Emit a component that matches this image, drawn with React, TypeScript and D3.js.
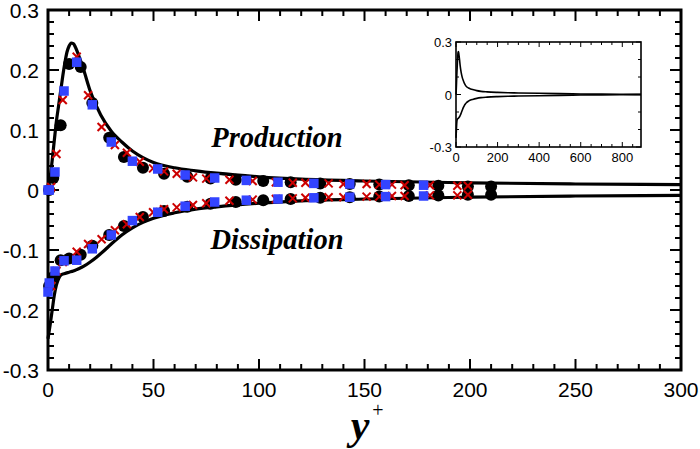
import React from "react";
import * as d3 from "d3";

// ---- Data ----
const prodLineX = [0, 1, 2, 3, 4, 5, 6, 7, 8, 9, 10, 11, 12, 13, 15, 17, 20, 25, 30, 35, 40, 45, 50, 60, 70, 80, 100, 120, 150, 200, 250, 300];
const prodLineY = [0, 0.02, 0.05, 0.083, 0.115, 0.14, 0.165, 0.19, 0.212, 0.23, 0.24, 0.245, 0.244, 0.238, 0.22, 0.199, 0.165, 0.125, 0.098, 0.08, 0.065, 0.054, 0.046, 0.037, 0.032, 0.028, 0.022, 0.018, 0.015, 0.012, 0.01, 0.009];
const dissLineX = [0, 1, 2, 3, 4, 5, 6, 8, 10, 12, 14, 17, 20, 23, 26, 30, 35, 40, 45, 50, 60, 70, 80, 100, 120, 150, 200, 250, 300];
const dissLineY = [-0.248, -0.225, -0.2, -0.175, -0.158, -0.148, -0.142, -0.139, -0.137, -0.135, -0.132, -0.127, -0.12, -0.112, -0.103, -0.09, -0.075, -0.063, -0.054, -0.047, -0.038, -0.032, -0.028, -0.022, -0.018, -0.015, -0.012, -0.01, -0.009];
// inset extension beyond y+ = 300
const extX = [400, 500, 600, 700, 800, 890];
const extProdY = [0.007, 0.005, 0.003, 0.002, 0.001, 0.0005];
const extDissY = [-0.007, -0.005, -0.003, -0.002, -0.001, -0.0005];

const circX = [0.5, 2.5, 6, 10, 15.5, 21, 29, 36, 45, 55, 66, 77, 89, 102, 115, 129, 143, 157, 171, 185, 199, 210];
const circProd = [0.0, 0.02, 0.108, 0.21, 0.205, 0.145, 0.087, 0.055, 0.037, 0.027, 0.022, 0.019, 0.017, 0.015, 0.013, 0.011, 0.01, 0.009, 0.008, 0.007, 0.006, 0.006];
const circDiss = [-0.16, -0.145, -0.117, -0.114, -0.108, -0.093, -0.075, -0.06, -0.045, -0.035, -0.028, -0.023, -0.02, -0.017, -0.015, -0.013, -0.012, -0.011, -0.01, -0.009, -0.008, -0.008];

const sqX = [0, 0.6, 3.3, 7.6, 13.6, 21, 30, 40, 52, 65, 79, 94, 109, 126, 143, 160, 178];
const sqProd = [0.0, 0.0, 0.03, 0.165, 0.213, 0.142, 0.08, 0.048, 0.035, 0.025, 0.02, 0.016, 0.013, 0.011, 0.01, 0.009, 0.008];
const sqDiss = [-0.17, -0.155, -0.135, -0.118, -0.117, -0.098, -0.075, -0.051, -0.037, -0.027, -0.02, -0.017, -0.015, -0.013, -0.012, -0.011, -0.01];

const xMarkX = [1.5, 4, 7, 13.6, 19, 25.4, 31.7, 37.4, 43.5, 49.8, 55, 61, 68.7, 75, 86, 97, 108, 116, 122, 133, 140, 151, 157, 163, 169, 181, 194, 199];
const xMarkProd = [0.005, 0.06, 0.15, 0.222, 0.158, 0.105, 0.075, 0.062, 0.047, 0.036, 0.031, 0.027, 0.021, 0.019, 0.017, 0.015, 0.013, 0.012, 0.012, 0.011, 0.01, 0.01, 0.009, 0.009, 0.008, 0.008, 0.007, 0.007];
const xMarkDiss = [-0.16, -0.135, -0.12, -0.103, -0.09, -0.082, -0.067, -0.057, -0.045, -0.037, -0.032, -0.029, -0.025, -0.022, -0.018, -0.016, -0.015, -0.014, -0.013, -0.012, -0.012, -0.011, -0.011, -0.01, -0.01, -0.009, -0.009, -0.008];

const xTicks = [0, 50, 100, 150, 200, 250, 300];
const yTicks = [0.3, 0.2, 0.1, 0, -0.1, -0.2, -0.3];
const insetXTicks = [0, 200, 400, 600, 800];
const insetYTicks = [0.3, 0, -0.3];

const fmt = (v: number) => (Math.abs(v) < 1e-9 ? "0" : String(+v.toFixed(1)));

export default function App() {
  const W = 700, H = 449;
  const L = 48, R = 681, T = 10, B = 370;
  const x = d3.scaleLinear().domain([0, 300]).range([L, R]);
  const y = d3.scaleLinear().domain([-0.3, 0.3]).range([B, T]);

  const line = d3
    .line<[number, number]>()
    .x((d) => x(d[0]))
    .y((d) => y(d[1]))
    .curve(d3.curveMonotoneX);

  const prodPts = prodLineX.map((v, i) => [v, prodLineY[i]] as [number, number]);
  const dissPts = dissLineX.map((v, i) => [v, dissLineY[i]] as [number, number]);

  // inset
  const iL = 456, iR = 641, iT = 42, iB = 147;
  const ix = d3.scaleLinear().domain([0, 890]).range([iL, iR]);
  const iy = d3.scaleLinear().domain([-0.3, 0.3]).range([iB, iT]);
  const iline = d3
    .line<[number, number]>()
    .x((d) => ix(d[0]))
    .y((d) => iy(d[1]))
    .curve(d3.curveMonotoneX);
  const iProd = [...prodPts, ...extX.map((v, i) => [v, extProdY[i]] as [number, number])];
  const iDiss = [...dissPts, ...extX.map((v, i) => [v, extDissY[i]] as [number, number])];

  const xMinor = d3.range(0, 301, 10);
  const yMinor = d3.range(-0.3, 0.3001, 0.02);
  const ixMinor = d3.range(0, 890, 50);
  const iyMinor = d3.range(-0.3, 0.3001, 0.1);

  const sans = "'Liberation Sans', Arial, sans-serif";
  const serif = "'Liberation Serif', 'Times New Roman', serif";
  const sq = 9.5;
  const xs = 4;

  return (
    <svg width={W} height={H} style={{ position: "absolute", left: 0, top: 0, background: "#fff" }}>
      <rect x={0} y={0} width={W} height={H} fill="#fff" />
      {/* ticks */}
      <g stroke="#000" strokeWidth={2}>
        {xMinor.map((t) => {
          const major = t % 50 === 0;
          const len = major ? 11 : 6;
          return (
            <g key={"xm" + t}>
              <line x1={x(t)} x2={x(t)} y1={B} y2={B - len} />
              <line x1={x(t)} x2={x(t)} y1={T} y2={T + len} />
            </g>
          );
        })}
        {yMinor.map((t, i) => {
          const major = i % 5 === 0;
          const len = major ? 11 : 6;
          return (
            <g key={"ym" + i}>
              <line x1={L} x2={L + len} y1={y(t)} y2={y(t)} />
              <line x1={R} x2={R - len} y1={y(t)} y2={y(t)} />
            </g>
          );
        })}
      </g>
      <rect x={L} y={T} width={R - L} height={B - T} fill="none" stroke="#000" strokeWidth={3} />

      {/* lines */}
      <path d={line(prodPts) || ""} fill="none" stroke="#000" strokeWidth={3.2} />
      <path d={line(dissPts) || ""} fill="none" stroke="#000" strokeWidth={3.2} />

      {/* circles */}
      <g fill="#000">
        {circX.map((v, i) => (
          <g key={"c" + i}>
            <circle cx={x(v)} cy={y(circProd[i])} r={6} />
            <circle cx={x(v)} cy={y(circDiss[i])} r={6} />
          </g>
        ))}
      </g>
      {/* X marks */}
      <g stroke="#cc0000" strokeWidth={2}>
        {xMarkX.map((v, i) =>
          [xMarkProd[i], xMarkDiss[i]].map((val, j) => {
            const cx = x(v), cy = y(val);
            return (
              <g key={"x" + i + "-" + j}>
                <line x1={cx - xs} y1={cy - xs} x2={cx + xs} y2={cy + xs} />
                <line x1={cx - xs} y1={cy + xs} x2={cx + xs} y2={cy - xs} />
              </g>
            );
          })
        )}
      </g>
      {/* squares */}
      <g fill="#3344ff">
        {sqX.map((v, i) => (
          <g key={"s" + i}>
            <rect x={x(v) - sq / 2} y={y(sqProd[i]) - sq / 2} width={sq} height={sq} />
            <rect x={x(v) - sq / 2} y={y(sqDiss[i]) - sq / 2} width={sq} height={sq} />
          </g>
        ))}
      </g>

      {/* tick labels */}
      <g fontFamily={sans} fontSize={21} fill="#000">
        {xTicks.map((t) => (
          <text key={"xt" + t} x={x(t)} y={397} textAnchor="middle">
            {fmt(t)}
          </text>
        ))}
        {yTicks.map((t) => (
          <text key={"yt" + t} x={39} y={y(t) + 7.5} textAnchor="end">
            {fmt(t)}
          </text>
        ))}
      </g>

      {/* annotations */}
      <text x={277} y={147} textAnchor="middle" fontFamily={serif} fontWeight="bold" fontStyle="italic" fontSize={28.5}>
        Production
      </text>
      <text x={277} y={249} textAnchor="middle" fontFamily={serif} fontWeight="bold" fontStyle="italic" fontSize={28.5}>
        Dissipation
      </text>

      {/* axis title */}
      <text x={360} y={439} textAnchor="middle" fontFamily={serif} fontWeight="bold" fontStyle="italic" fontSize={42}>
        y
      </text>
      <text x={378} y={417} textAnchor="middle" fontFamily={serif} fontSize={20}>
        +
      </text>

      {/* inset */}
      <rect x={iL} y={iT} width={iR - iL} height={iB - iT} fill="#fff" />
      <g stroke="#000" strokeWidth={1}>
        {ixMinor.map((t) => {
          const len = t % 200 === 0 ? 5 : 3;
          return (
            <g key={"ixm" + t}>
              <line x1={ix(t)} x2={ix(t)} y1={iB} y2={iB - len} />
              <line x1={ix(t)} x2={ix(t)} y1={iT} y2={iT + len} />
            </g>
          );
        })}
        {iyMinor.map((t, i) => {
          const len = i % 3 === 0 ? 5 : 3;
          return (
            <g key={"iym" + i}>
              <line x1={iL} x2={iL + len} y1={iy(t)} y2={iy(t)} />
              <line x1={iR} x2={iR - len} y1={iy(t)} y2={iy(t)} />
            </g>
          );
        })}
      </g>
      <path d={iline(iProd) || ""} fill="none" stroke="#000" strokeWidth={1.6} />
      <path d={iline(iDiss) || ""} fill="none" stroke="#000" strokeWidth={1.6} />
      <rect x={iL} y={iT} width={iR - iL} height={iB - iT} fill="none" stroke="#000" strokeWidth={1.6} />
      <g fontFamily={sans} fontSize={13} fill="#000">
        {insetXTicks.map((t) => (
          <text key={"ixt" + t} x={ix(t)} y={162} textAnchor="middle">
            {fmt(t)}
          </text>
        ))}
        {insetYTicks.map((t) => (
          <text key={"iyt" + t} x={452} y={iy(t) + 5} textAnchor="end">
            {fmt(t)}
          </text>
        ))}
      </g>
    </svg>
  );
}
